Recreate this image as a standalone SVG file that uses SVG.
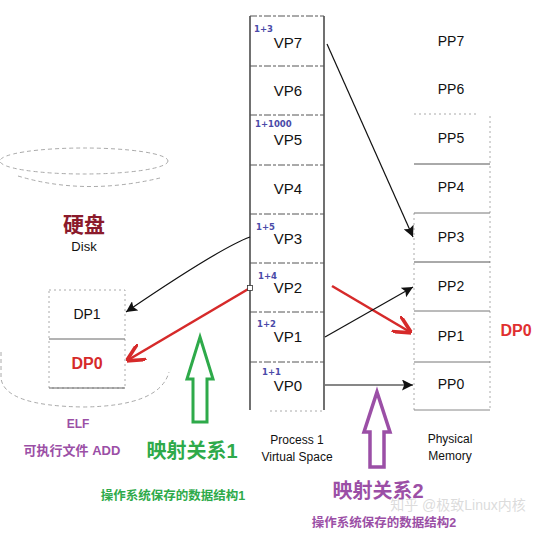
<svg xmlns="http://www.w3.org/2000/svg" width="546" height="536" viewBox="0 0 546 536">
<defs>
<style>
.t{font-family:"Liberation Sans",Arial,sans-serif;fill:#111;text-anchor:middle}
.pg{font-size:14px}
.vp{font-size:15px}
.sm{font-family:"DejaVu Sans",sans-serif;font-size:8.5px;font-weight:bold;fill:#4a4aa8}
.cjk{font-family:"Liberation Sans","Noto Sans CJK SC",sans-serif;font-weight:bold;text-anchor:middle}
.sep{stroke:#555;stroke-width:1;stroke-dasharray:7 2 3 2}
.dash{fill:none;stroke:#aaa;stroke-width:1;stroke-dasharray:4 3}
.dot{fill:none;stroke:#aaa;stroke-width:1;stroke-dasharray:2 3}
.blk{stroke:#111;stroke-width:1.2;fill:none}
.red{stroke:#d62a2a;stroke-width:2.6;fill:none}
</style>
<marker id="ah" viewBox="0 0 10 10" refX="10" refY="5" markerWidth="11" markerHeight="11" markerUnits="userSpaceOnUse" orient="auto"><path d="M0,0 L10,5 L0,10 L2,5 z" fill="#111"/></marker>
<marker id="ahr" viewBox="0 0 10 10" refX="9" refY="5" markerWidth="7" markerHeight="7" orient="auto"><path d="M0,0 L10,5 L0,10" fill="none" stroke="#d62a2a" stroke-width="2"/></marker>
<marker id="sq" viewBox="0 0 6 6" refX="3" refY="3" markerWidth="6" markerHeight="6" markerUnits="userSpaceOnUse"><rect x="0.5" y="0.5" width="5" height="5" fill="#fff" stroke="#333" stroke-width="0.8"/></marker>
</defs>
<rect width="546" height="536" fill="#fff"/>

<g id="disk">
<ellipse class="dash" cx="84" cy="161" rx="84" ry="13"/>
<path class="dash" d="M18,176 Q84,196 160,178"/>
<path class="dash" d="M1,352 L1,378 Q4,406 84,407 Q160,406 169,372"/>
<text class="cjk" x="84" y="232" font-size="21" fill="#8b1a2b">硬盘</text>
<text class="t" x="84" y="251" font-size="13">Disk</text>
</g>

<g id="dp">
<rect x="49" y="290" width="76" height="98" fill="#fff" class="dot"/>
<line x1="49" y1="339" x2="125" y2="339" stroke="#666"/>
<line x1="49" y1="388" x2="125" y2="388" stroke="#666"/>
<text class="t pg" x="87" y="319">DP1</text>
<text class="t" x="87" y="369" style="font-size:16px;font-weight:bold;fill:#d62a2a">DP0</text>
</g>

<g id="elf">
<text class="t" x="78" y="428" style="font-size:12px;font-weight:bold;fill:#9b4fa6">ELF</text>
<text class="cjk" x="72" y="455" font-size="13" fill="#9b4fa6">可执行文件 ADD</text>
</g>

<g id="virtual">
<line x1="250" y1="16" x2="250" y2="410" stroke="#111" stroke-width="1.2"/>
<line x1="324" y1="16" x2="324" y2="410" stroke="#111" stroke-width="1.2"/>
<line class="sep" x1="250" y1="16" x2="324" y2="16"/>
<line class="sep" x1="250" y1="66" x2="324" y2="66"/>
<line class="sep" x1="250" y1="115" x2="324" y2="115"/>
<line class="sep" x1="250" y1="165" x2="324" y2="165"/>
<line class="sep" x1="250" y1="214" x2="324" y2="214"/>
<line class="sep" x1="250" y1="263" x2="324" y2="263"/>
<line class="sep" x1="250" y1="312" x2="324" y2="312"/>
<line class="sep" x1="250" y1="362" x2="324" y2="362"/>
<line class="dot" x1="270" y1="411" x2="324" y2="411"/>
<text class="t vp" x="288" y="48">VP7</text>
<text class="t vp" x="288" y="96">VP6</text>
<text class="t vp" x="288" y="145">VP5</text>
<text class="t vp" x="288" y="194">VP4</text>
<text class="t vp" x="288" y="244">VP3</text>
<text class="t vp" x="288" y="293">VP2</text>
<text class="t vp" x="288" y="342">VP1</text>
<text class="t vp" x="288" y="391">VP0</text>
<text class="sm" x="254" y="32">1+3</text>
<text class="sm" x="255" y="127">1+1000</text>
<text class="sm" x="256" y="230">1+5</text>
<text class="sm" x="258" y="279">1+4</text>
<text class="sm" x="257" y="327">1+2</text>
<text class="sm" x="262" y="375">1+1</text>
<text class="t" x="297" y="444" font-size="12">Process 1</text>
<text class="t" x="297" y="461" font-size="12">Virtual Space</text>
</g>

<g id="physical">
<line class="dot" x1="414" y1="114" x2="478" y2="114"/>
<line class="dot" x1="490" y1="116" x2="490" y2="410"/>
<line class="dot" x1="414" y1="213" x2="414" y2="410"/>
<line x1="414" y1="164" x2="490" y2="164" stroke="#555"/>
<line x1="414" y1="213" x2="490" y2="213" stroke="#777"/>
<line x1="414" y1="262" x2="490" y2="262" stroke="#555"/>
<line x1="414" y1="311" x2="490" y2="311" stroke="#777"/>
<line x1="414" y1="362" x2="490" y2="362" stroke="#777"/>
<line x1="414" y1="410" x2="490" y2="410" stroke="#888"/>
<text class="t pg" x="451" y="46">PP7</text>
<text class="t pg" x="451" y="94">PP6</text>
<text class="t pg" x="451" y="143">PP5</text>
<text class="t pg" x="451" y="192">PP4</text>
<text class="t pg" x="451" y="242">PP3</text>
<text class="t pg" x="451" y="291">PP2</text>
<text class="t pg" x="451" y="341">PP1</text>
<text class="t pg" x="451" y="389">PP0</text>
<text class="t" x="450" y="443" font-size="12">Physical</text>
<text class="t" x="450" y="460" font-size="12">Memory</text>
<text class="t" x="516" y="336" style="font-size:16px;font-weight:bold;fill:#e03030">DP0</text>
</g>

<g id="connectors">
<line class="blk" x1="327" y1="44" x2="413" y2="237" marker-end="url(#ah)"/>
<path class="blk" d="M250,237 Q220,248 126,312" marker-end="url(#ah)"/>
<line class="red" x1="250" y1="288" x2="128" y2="360" marker-end="url(#ahr)" marker-start="url(#sq)"/>
<line class="red" x1="332" y1="286" x2="410" y2="332" marker-end="url(#ahr)"/>
<line class="blk" x1="325" y1="337" x2="413" y2="287" marker-end="url(#ah)"/>
<line class="blk" x1="325" y1="385" x2="413" y2="385" marker-end="url(#ah)"/>
</g>

<g id="map1">
<path d="M200,337 L213,379 L207,379 L207,422 L193,422 L193,379 L187,379 Z" fill="#fff" stroke="#2eaa4a" stroke-width="3"/>
<text class="cjk" x="192" y="458" font-size="20" fill="#2eaa4a">映射关系1</text>
<text class="cjk" x="173" y="500" font-size="12.5" fill="#2eaa4a">操作系统保存的数据结构1</text>
</g>

<g id="map2">
<path d="M377,392 L390,432 L384,432 L384,467 L370,467 L370,432 L364,432 Z" fill="#fff" stroke="#9b4fa6" stroke-width="3.5"/>
<text class="cjk" x="378" y="498" font-size="20" fill="#9b4fa6">映射关系2</text>
<text class="cjk" x="384" y="527" font-size="12.5" fill="#9b4fa6">操作系统保存的数据结构2</text>
</g>

<text x="458" y="510" font-family="Liberation Sans,'Noto Sans CJK SC',sans-serif" font-size="14" fill="#ccc" fill-opacity="0.7" text-anchor="middle">知乎 @极致Linux内核</text>
</svg>
